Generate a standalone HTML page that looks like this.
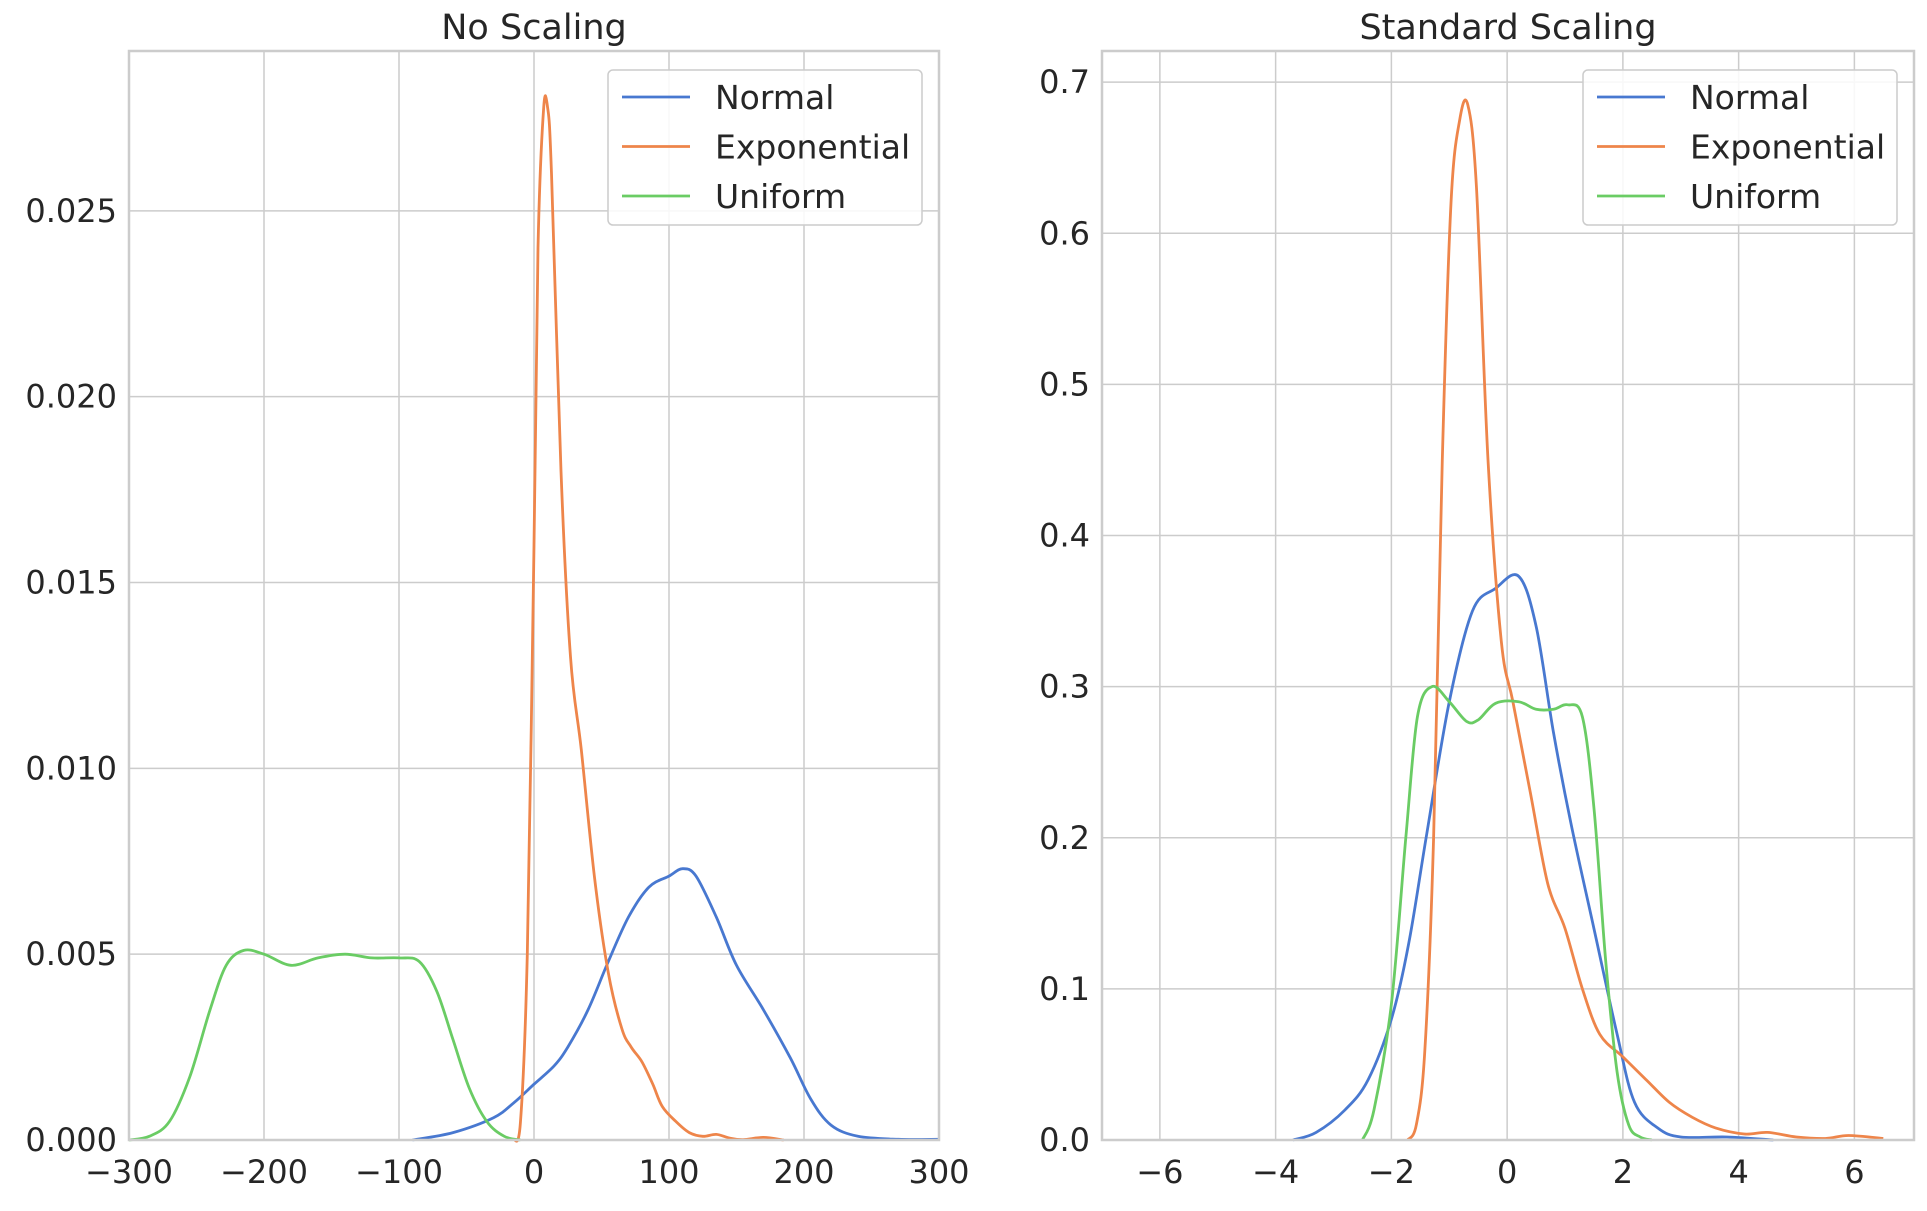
<!DOCTYPE html>
<html><head><meta charset="utf-8"><style>
body{margin:0;background:#fff}
svg text{font-family:"DejaVu Sans","Liberation Sans",sans-serif;fill:#262626}
</style></head><body>
<svg id="chart" width="1927" height="1206" viewBox="0 0 1927 1206" xmlns="http://www.w3.org/2000/svg"></svg>
<script>
const leftXTicks=[-300,-200,-100,0,100,200,300];
const leftYTicks=[0,0.005,0.010,0.015,0.020,0.025];
const leftYLabels=["0.000","0.005","0.010","0.015","0.020","0.025"];
const rightXTicks=[-6,-4,-2,0,2,4,6];
const rightYTicks=[0,0.1,0.2,0.3,0.4,0.5,0.6,0.7];
const rightYLabels=["0.0","0.1","0.2","0.3","0.4","0.5","0.6","0.7"];
const seriesNames=["Normal","Exponential","Uniform"];
const leftNormal=[[-90,0],[-60,0.0002],[-30,0.0006],[-15,0.001],[0,0.0015],[15,0.002],[25,0.0025],[40,0.0035],[55,0.0048],[70,0.006],[85,0.0068],[100,0.0071],[110,0.0073],[120,0.0071],[135,0.006],[150,0.0047],[170,0.0035],[190,0.0022],[205,0.0011],[220,0.0004],[240,0.0001],[270,0.00002],[300,0.00002]];
const leftExp=[[-15,0],[-10,0.0005],[-5,0.005],[0,0.016],[3,0.024],[7,0.0277],[10,0.0278],[13,0.026],[20,0.018],[27,0.013],[35,0.0105],[45,0.007],[55,0.0045],[65,0.003],[72,0.0025],[80,0.0021],[88,0.0015],[95,0.0009],[105,0.0005],[115,0.0002],[125,0.0001],[135,0.00015],[145,0.00005],[155,0.00001],[170,0.00007],[185,0]];
const leftUni=[[-300,0],[-285,0.0001],[-270,0.0005],[-255,0.0017],[-240,0.0035],[-228,0.0047],[-215,0.0051],[-200,0.005],[-180,0.0047],[-160,0.0049],[-140,0.005],[-120,0.0049],[-100,0.0049],[-85,0.0048],[-72,0.004],[-60,0.0027],[-48,0.0014],[-35,0.0005],[-22,0.0001],[-10,0]];
const rightNormal=[[-3.7,0],[-3.3,0.005],[-2.8,0.02],[-2.4,0.04],[-2,0.08],[-1.7,0.13],[-1.4,0.2],[-1,0.29],[-0.6,0.35],[-0.2,0.365],[0.2,0.373],[0.5,0.34],[0.8,0.27],[1.1,0.21],[1.5,0.14],[1.9,0.07],[2.2,0.025],[2.6,0.008],[3,0.002],[3.8,0.002],[4.6,0]];
const rightExp=[[-1.72,0],[-1.57,0.01],[-1.42,0.06],[-1.27,0.2],[-1.12,0.45],[-0.97,0.62],[-0.82,0.675],[-0.68,0.685],[-0.53,0.63],[-0.33,0.45],[-0.1,0.33],[0.1,0.29],[0.4,0.23],[0.7,0.17],[1.0,0.14],[1.3,0.1],[1.6,0.07],[2,0.055],[2.4,0.04],[2.8,0.025],[3.2,0.015],[3.6,0.008],[4.1,0.004],[4.5,0.005],[5,0.002],[5.5,0.001],[5.9,0.003],[6.5,0.001]];
const rightUni=[[-2.5,0],[-2.3,0.02],[-2.0,0.09],[-1.75,0.2],[-1.55,0.28],[-1.3,0.3],[-1.0,0.29],[-0.7,0.277],[-0.5,0.278],[-0.2,0.289],[0.2,0.29],[0.5,0.285],[0.8,0.285],[1.05,0.288],[1.3,0.28],[1.5,0.22],[1.7,0.12],[1.9,0.045],[2.1,0.01],[2.3,0.002],[2.5,0]];
const colors=["#4878d0","#ee854a","#6acc64"];
const NS="http://www.w3.org/2000/svg";
const svg=document.getElementById('chart');
function mk(tag,attrs,parent){const e=document.createElementNS(NS,tag);for(const k in attrs)e.setAttribute(k,attrs[k]);(parent||svg).appendChild(e);return e;}
function path(pts,sx,sy){let d='M'+sx(pts[0][0]).toFixed(1)+','+sy(pts[0][1]).toFixed(1);
 for(let i=0;i<pts.length-1;i++){const p0=pts[Math.max(i-1,0)],p1=pts[i],p2=pts[i+1],p3=pts[Math.min(i+2,pts.length-1)];
  const c1x=sx(p1[0])+(sx(p2[0])-sx(p0[0]))/6,c1y=sy(p1[1])+(sy(p2[1])-sy(p0[1]))/6;
  const c2x=sx(p2[0])-(sx(p3[0])-sx(p1[0]))/6,c2y=sy(p2[1])-(sy(p3[1])-sy(p1[1]))/6;
  d+=' C'+c1x.toFixed(1)+','+c1y.toFixed(1)+' '+c2x.toFixed(1)+','+c2y.toFixed(1)+' '+sx(p2[0]).toFixed(1)+','+sy(p2[1]).toFixed(1);}
 return d;}
function panel(o){
 const g=mk('g',{});
 
 
 const sx=v=>o.L+(v-o.x0)/(o.x1-o.x0)*(o.R-o.L);
 const sy=v=>o.B-(v-o.y0)/(o.y1-o.y0)*(o.B-o.T);
 o.xt.forEach(t=>{const l=mk('line',{x1:sx(t),x2:sx(t),y1:o.T,y2:o.B,stroke:'#cccccc','stroke-width':1.5},g);
  
  const tx=mk('text',{x:sx(t),y:o.B+43,'text-anchor':'middle','font-size':32},g);tx.textContent=(t<0?'\u2212'+Math.abs(t):String(t));
  });
 o.yt.forEach((t,i)=>{const l=mk('line',{x1:o.L,x2:o.R,y1:sy(t),y2:sy(t),stroke:'#cccccc','stroke-width':1.5},g);
  
  const tx=mk('text',{x:o.L-12,y:sy(t)+11,'text-anchor':'end','font-size':32},g);tx.textContent=o.yl[i];
  });
 o.series.forEach((s,i)=>{const p=mk('path',{d:path(s,sx,sy),fill:'none',stroke:colors[i],'stroke-width':2.8},g);
  });
 const fr=mk('rect',{x:o.L,y:o.T,width:o.R-o.L,height:o.B-o.T,fill:'none',stroke:'#cccccc','stroke-width':2.5},g);
 
 const ti=mk('text',{x:(o.L+o.R)/2,y:39,'text-anchor':'middle','font-size':35},g);ti.textContent=o.title;
 
 const lg=mk('g',{},g);
 
 mk('rect',{x:o.lx,y:70,width:314,height:155,rx:5,fill:'#fff','fill-opacity':0.85,stroke:'#cccccc','stroke-width':1.5},lg);
 seriesNames.forEach((n,i)=>{const y=97+i*49.5;
  const e=mk('g',{},lg);
  
  mk('line',{x1:o.lx+14,x2:o.lx+82,y1:y,y2:y,stroke:colors[i],'stroke-width':2.8},e);
  const t=mk('text',{x:o.lx+107,y:y+12,'font-size':33},e);t.textContent=n;});
}
panel({name:'no-scaling-panel',title:'No Scaling',L:129,R:939,T:51,B:1140,x0:-300,x1:300,y0:0,y1:0.0293,xt:leftXTicks,yt:leftYTicks,yl:leftYLabels,series:[leftNormal,leftExp,leftUni],lx:608});
panel({name:'standard-scaling-panel',title:'Standard Scaling',L:1102,R:1914,T:51,B:1140,x0:-7,x1:7.03,y0:0,y1:0.7206,xt:rightXTicks,yt:rightYTicks,yl:rightYLabels,series:[rightNormal,rightExp,rightUni],lx:1583});
</script>
</body></html>
